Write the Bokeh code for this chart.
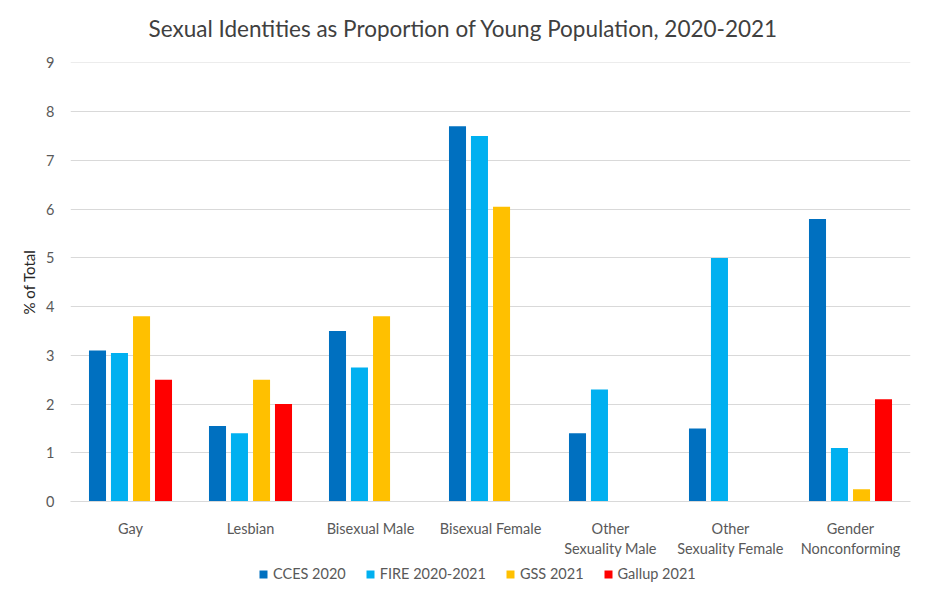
import numpy as np
from bokeh.plotting import figure
from bokeh.layouts import column
from bokeh.models import (ColumnDataSource, FactorRange, Legend, LegendItem,
                          SingleIntervalTicker, Label)
from bokeh.transform import dodge
from bokeh.embed import file_html
from bokeh.resources import INLINE

categories = ["Gay", "Lesbian", "Bisexual Male", "Bisexual Female",
              "Other\nSexuality Male", "Other\nSexuality Female", "Gender\nNonconforming"]
series = ["CCES 2020", "FIRE 2020-2021", "GSS 2021", "Gallup 2021"]
cces = [3.1, 1.55, 3.5, 7.7, 1.4, 1.5, 5.8]
fire = [3.05, 1.4, 2.75, 7.5, 2.3, 5.0, 1.1]
gss = [3.8, 2.5, 3.8, 6.05, np.nan, np.nan, 0.25]
gallup = [2.5, 2.0, np.nan, np.nan, np.nan, np.nan, 2.1]
colors = ["#0070C0", "#00B0F0", "#FFC000", "#FF0000"]
title = "Sexual Identities as Proportion of Young Population, 2020-2021"

FONT = "Lato"
GREY = "#595959"

# title strip on top
tt = figure(width=912, height=45, output_backend="svg", toolbar_location=None,
            x_range=(0, 840), y_range=(0, 45), x_axis_location=None, y_axis_location=None,
            min_border_left=70, min_border_right=2, min_border_top=0, min_border_bottom=0)
tt.outline_line_color = None
tt.grid.grid_line_color = None
tt.add_layout(Label(x=393, y=17, text=title, text_align="center", text_baseline="middle",
                    text_font=FONT, text_font_size="22.5px", text_color="#404040"))

src = ColumnDataSource(dict(cat=categories, cces=cces, fire=fire, gss=gss, gallup=gallup))

p = figure(x_range=FactorRange(*categories), y_range=(0, 9.01),
           width=912, height=518, output_backend="svg", toolbar_location=None,
           min_border_left=70, min_border_right=2, min_border_top=17, min_border_bottom=62)
p.outline_line_color = None

offsets = [-0.275, -0.092, 0.092, 0.275]
for col, off, c in zip(["cces", "fire", "gss", "gallup"], offsets, colors):
    p.vbar(x=dodge("cat", off, range=p.x_range), top=col, width=0.142,
           bottom=0, source=src, fill_color=c, line_color=None)

p.xgrid.grid_line_color = None
p.ygrid.grid_line_color = "#d9d9d9"
p.ygrid.grid_line_width = 1

p.yaxis.ticker = SingleIntervalTicker(interval=1)
p.yaxis.axis_line_color = None
p.yaxis.major_tick_line_color = None
p.yaxis.minor_tick_line_color = None
p.yaxis.major_label_text_font = FONT
p.yaxis.major_label_text_font_size = "14.5px"
p.yaxis.major_label_text_color = GREY
p.yaxis.major_label_standoff = 10
p.yaxis.axis_label = "% of Total"
p.yaxis.axis_label_text_font = FONT
p.yaxis.axis_label_text_font_size = "15px"
p.yaxis.axis_label_text_font_style = "normal"
p.yaxis.axis_label_text_color = "#262626"

p.xaxis.axis_line_color = "#d9d9d9"
p.xaxis.major_tick_line_color = None
p.xaxis.minor_tick_line_color = None
p.xaxis.major_label_text_font = FONT
p.xaxis.major_label_text_font_size = "14.5px"
p.xaxis.major_label_text_color = GREY
p.xaxis.major_label_standoff = 12

# separate strip under the chart that only carries the legend
lg = figure(width=912, height=21, output_backend="svg", toolbar_location=None,
            x_range=(0, 1), y_range=(0, 1), x_axis_location=None, y_axis_location=None,
            min_border_left=70, min_border_right=2, min_border_top=0, min_border_bottom=0)
lg.outline_line_color = None
lg.grid.grid_line_color = None
dummy = ColumnDataSource(dict(x=[0.5], top=[np.nan]))
items = []
for c, name in zip(colors, series):
    r = lg.vbar(x="x", top="top", width=0.1, source=dummy, fill_color=c, line_color=None)
    items.append(LegendItem(label=name, renderers=[r]))

legend = Legend(items=items, orientation="horizontal", location=(188, 2),
                label_text_font=FONT, label_text_font_size="14.5px", label_text_color=GREY,
                glyph_width=10, glyph_height=10, spacing=19, border_line_color=None,
                background_fill_alpha=0, label_standoff=5, padding=0, margin=0)
lg.add_layout(legend)

layout = column(tt, p, lg, spacing=0)
open("out.html", "w").write(file_html(layout, INLINE))
